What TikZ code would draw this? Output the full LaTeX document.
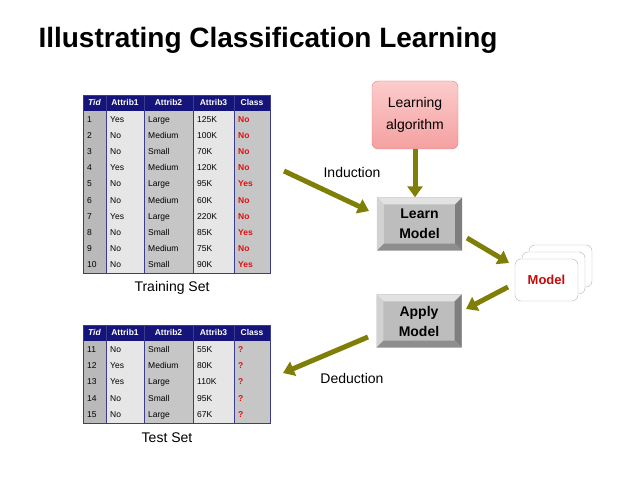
\documentclass[tikz,border=0pt]{standalone}
\usepackage{fontspec}
\setmainfont{Liberation Sans}
\usetikzlibrary{calc, positioning}
\usetikzlibrary{arrows.meta}

\definecolor{navyhead}{HTML}{14147A}
\definecolor{tabline}{HTML}{3C3C8C}
\definecolor{coldark}{HTML}{B9B9B9}
\definecolor{colmid}{HTML}{C6C6C6}
\definecolor{collight}{HTML}{E6E6E6}
\definecolor{classred}{HTML}{E01010}
\definecolor{flowolive}{HTML}{7F7F08}
\definecolor{btnface}{HTML}{BDBDBD}
\definecolor{bevtop}{HTML}{E2E2E2}
\definecolor{bevleft}{HTML}{D2D2D2}
\definecolor{bevright}{HTML}{7E7E7E}
\definecolor{bevbottom}{HTML}{8E8E8E}
\definecolor{cardline}{HTML}{B4B4B4}
\definecolor{modelred}{HTML}{C80A0A}

\begin{document}
\begin{tikzpicture}[x=1pt,y=-1pt,
  cell/.style={inner sep=0pt, anchor=base west, font=\fontsize{8.5}{10}\selectfont},
  headcell/.style={inner sep=0pt, anchor=base, text=white, font=\fontsize{8.5}{10}\selectfont\bfseries},
  classcell/.style={cell, text=classred, font=\fontsize{8.5}{10}\selectfont\bfseries},
  bigtext/.style={font=\fontsize{14}{22}\selectfont, align=center},
  flow/.style={line width=5pt, draw=flowolive, -{Triangle[length=11pt,width=15pt]}},
  button/.style={fill=btnface, minimum width=85pt, minimum height=53pt, inner sep=0pt,
    align=center, font=\fontsize{14}{20}\selectfont\bfseries},
  card/.style={draw=cardline, fill=white, rounded corners=6pt, minimum width=63pt,
    minimum height=42pt, inner sep=0pt}]
\useasboundingbox (0,0) rectangle (638,478);

\node[anchor=base west, font=\fontsize{28}{32}\selectfont\bfseries] (title) at (35,48)
  {Illustrating Classification Learning};

% training set
\foreach \xl/\xr/\shade in {83/106/coldark,106/144/collight,144/193/colmid,193/234/collight,234/270/colmid}
  \fill[\shade] (\xl,111) rectangle (\xr,273);
\fill[navyhead] (83,95) rectangle (270,111);
\foreach \xx in {106,144,193,234}
  \draw[tabline] (\xx,95) -- (\xx,273);
\draw[tabline] (83,95) rectangle (270,273);
\foreach \txt/\xc [count=\c] in {\textit{Tid}/94.5,Attrib1/125,Attrib2/168.5,Attrib3/213.5,Class/252}
  \node[headcell] (trh\c) at (\xc,106) {\txt};
\foreach \tid/\aa/\ab/\ac/\cl [count=\r] in {1/Yes/Large/125K/No, 2/No/Medium/100K/No,
    3/No/Small/70K/No, 4/Yes/Medium/120K/No, 5/No/Large/95K/Yes, 6/No/Medium/60K/No,
    7/Yes/Large/220K/No, 8/No/Small/85K/Yes, 9/No/Medium/75K/No, 10/No/Small/90K/Yes} {
  \pgfmathsetmacro\yy{111+(\r-0.5)*16.2+3}
  \node[cell] (tr-\r-1) at (87,\yy) {\tid};
  \node[cell] (tr-\r-2) at (110,\yy) {\aa};
  \node[cell] (tr-\r-3) at (148,\yy) {\ab};
  \node[cell] (tr-\r-4) at (197,\yy) {\ac};
  \node[classcell] (tr-\r-5) at (238,\yy) {\cl};
}
\node[bigtext] (trainlabel) at (172,288) {Training Set};

% test set
\foreach \xl/\xr/\shade in {83/106/coldark,106/144/collight,144/193/colmid,193/234/collight,234/270/colmid}
  \fill[\shade] (\xl,341) rectangle (\xr,423);
\fill[navyhead] (83,325) rectangle (270,341);
\foreach \xx in {106,144,193,234}
  \draw[tabline] (\xx,325) -- (\xx,423);
\draw[tabline] (83,325) rectangle (270,423);
\foreach \txt/\xc [count=\c] in {\textit{Tid}/94.5,Attrib1/125,Attrib2/168.5,Attrib3/213.5,Class/252}
  \node[headcell] (tsh\c) at (\xc,336) {\txt};
\foreach \tid/\aa/\ab/\ac [count=\r] in {11/No/Small/55K, 12/Yes/Medium/80K,
    13/Yes/Large/110K, 14/No/Small/95K, 15/No/Large/67K} {
  \pgfmathsetmacro\yy{341+(\r-0.5)*16.4+3}
  \node[cell] (ts-\r-1) at (87,\yy) {\tid};
  \node[cell] (ts-\r-2) at (110,\yy) {\aa};
  \node[cell] (ts-\r-3) at (148,\yy) {\ab};
  \node[cell] (ts-\r-4) at (197,\yy) {\ac};
  \node[classcell] (ts-\r-5) at (238,\yy) {?};
}
\node[bigtext] (testlabel) at (167,438) {Test Set};

% learner and model
\node[bigtext, draw={rgb,255:red,226;green,128;blue,128}, top color={rgb,255:red,252;green,204;blue,204},
  bottom color={rgb,255:red,244;green,160;blue,160}, rounded corners=6pt,
  minimum width=86pt, minimum height=68pt, inner sep=0pt] (algo) at (415,115) {Learning\\algorithm};

\node[button] (learn) at (419.5,224) {Learn\\Model};
\node[button] (apply) at (419,321) {Apply\\Model};
\foreach \nm in {learn,apply} {
  \fill[bevtop] (\nm.north west) -- (\nm.north east) -- ([shift={(-7,7)}]\nm.north east)
    -- ([shift={(7,7)}]\nm.north west) -- cycle;
  \fill[bevleft] (\nm.north west) -- ([shift={(7,7)}]\nm.north west)
    -- ([shift={(7,-7)}]\nm.south west) -- (\nm.south west) -- cycle;
  \fill[bevright] (\nm.north east) -- (\nm.south east) -- ([shift={(-7,-7)}]\nm.south east)
    -- ([shift={(-7,7)}]\nm.north east) -- cycle;
  \fill[bevbottom] (\nm.south west) -- ([shift={(7,-7)}]\nm.south west)
    -- ([shift={(-7,-7)}]\nm.south east) -- (\nm.south east) -- cycle;
}

\node[card] (card3) at (560.5,266) {};
\node[card] (card2) at (553.5,273) {};
\node[card, text=modelred, font=\fontsize{13}{15}\selectfont\bfseries] (model) at (546.5,280) {Model};

% arrows
\coordinate (indS) at (284,171);
\coordinate (indE) at (369,211);
\coordinate (lmS) at (467,238);
\coordinate (lmE) at (509,263);
\coordinate (amS) at (508,287);
\coordinate (amE) at (466,309);
\coordinate (dedS) at (368,337);
\coordinate (dedE) at (283,373);

\draw[flow] (indS) -- (indE);
\draw[flow] (algo.south) -- (algo.south |- learn.north);
\draw[flow] (lmS) -- (lmE);
\draw[flow] (amS) -- (amE);
\draw[flow] (dedS) -- (dedE);

\node[bigtext] (induction) at (352,172) {Induction};
\node[bigtext] (deduction) at (352,378) {Deduction};

\end{tikzpicture}
\end{document}
